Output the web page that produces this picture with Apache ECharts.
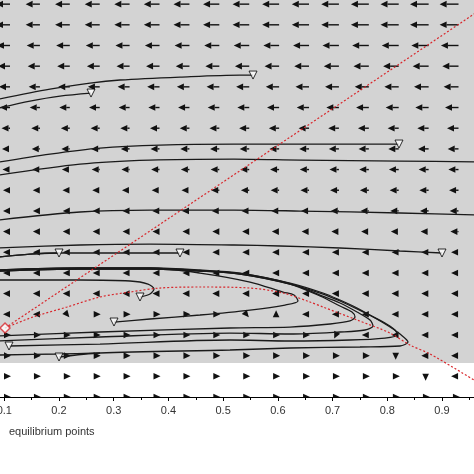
<!DOCTYPE html>
<html>
<head>
<meta charset="utf-8">
<script src="https://cdn.jsdelivr.net/npm/echarts@6/dist/echarts.min.js"></script>
<style>
  html, body { margin: 0; padding: 0; background: #fff; }
  #chart { width: 474px; height: 474px; }
</style>
</head>
<body>
<div id="chart"></div>
<script>
// x axis: 0 .. 1, labelled every 0.1 (the picture is a crop of a wider plot)
const xRange = [0, 1]
const xStep = 0.1
const yRange = [0, 0.96]

// shaded region (upper part of the phase plane)
const shadeBottom = 0.0822
const shadeTop = 0.96

// direction field: grid columns / rows, direction per cell, arrow length per row
const fieldX = [0.1049, 0.1596, 0.2142, 0.2689, 0.3235, 0.3782, 0.4329, 0.4875,
  0.5422, 0.5968, 0.6515, 0.7061, 0.7608, 0.8154, 0.8701, 0.9247]
const fieldY = [0, 0.05, 0.10, 0.15, 0.20, 0.25, 0.30, 0.35, 0.40, 0.45,
  0.50, 0.55, 0.60, 0.65, 0.70, 0.75, 0.80, 0.85, 0.90, 0.95]
// L left, R right, U up, D down, d down-left, r down-right (one string per row, bottom first)
const fieldDir = [
  'RRRRRRRRRRRRRRRR',
  'RRRRRRRRRRRRRRDL',
  'RRRRRRRRRRRRRDLL',
  'RRRRRRRRRRRdLLLL',
  'LLrRRRRRrULLLLLL',
  'LLLLLLLLLLLLLLLL',
  'LLLLLLLLLLLLLLLL',
  'LLLLLLLLLLLLLLLL',
  'LLLLLLLLLLLLLLLL',
  'LLLLLLLLLLLLLLLL',
  'LLLLLLLLLLLLLLLL',
  'LLLLLLLLLLLLLLLL',
  'LLLLLLLLLLLLLLLL',
  'LLLLLLLLLLLLLLLL',
  'LLLLLLLLLLLLLLLL',
  'LLLLLLLLLLLLLLLL',
  'LLLLLLLLLLLLLLLL',
  'LLLLLLLLLLLLLLLL',
  'LLLLLLLLLLLLLLLL',
  'LLLLLLLLLLLLLLLL',
]
const fieldLen = [5.5, 5.5, 5.5, 5.5, 5.5, 5.5, 5.5, 5.5, 6, 6.5,
  7, 7.5, 8, 8.5, 10, 11, 12, 13, 14, 14]
const fieldGain = [1.0, 1.02, 1.05, 1.07, 1.09, 1.12, 1.14, 1.16,
  1.19, 1.21, 1.23, 1.26, 1.28, 1.30, 1.33, 1.35]
const dirAngle = { L: 180, R: 0, U: 90, D: -90, d: -115, r: -50 }

// trajectories (first point = initial condition)
const traj1 = [[0.5546, 0.7785], [0.5308, 0.7785], [0.4211, 0.7737], [0.3115, 0.7665], [0.2567, 0.7592], [0.1835, 0.7447], [0.09, 0.7205]]
const traj2 = [[0.2585, 0.7350], [0.2018, 0.7278], [0.1470, 0.7157], [0.09, 0.6988]]
const traj3 = [[0.8214, 0.6117], [0.6405, 0.6117], [0.5198, 0.6117], [0.3846, 0.6093], [0.2749, 0.6020], [0.1835, 0.5875], [0.09, 0.5682]]
const traj4 = [[0.97, 0.5682], [0.8232, 0.5706], [0.6405, 0.5730], [0.5198, 0.5754], [0.3663, 0.5730], [0.2384, 0.5633], [0.09, 0.5368]]
const traj5 = [[0.97, 0.4400], [0.8232, 0.4449], [0.6405, 0.4497], [0.5198, 0.4521], [0.3663, 0.4521], [0.2384, 0.4473], [0.09, 0.4280]]
const traj6 = [[0.9000, 0.3482], [0.8232, 0.3530], [0.7135, 0.3603], [0.6039, 0.3651], [0.5198, 0.3675], [0.3663, 0.3699], [0.2384, 0.3675], [0.09, 0.3603]]
const traj7 = [[0.4211, 0.3482], [0.3115, 0.3482], [0.2000, 0.3482], [0.1470, 0.3457], [0.09, 0.3385]]
const traj8 = [[0.2000, 0.3482], [0.1470, 0.3457], [0.09, 0.3385]]
const loop1 = [[0.3480, 0.2418], [0.3663, 0.2490], [0.3736, 0.2611], [0.3627, 0.2732], [0.3298, 0.2805], [0.2384, 0.2829], [0.09, 0.2829]]
const loop2 = [[0.3005, 0.1813], [0.3663, 0.1886], [0.4577, 0.1983], [0.5491, 0.2103], [0.6131, 0.2224], [0.6368, 0.2321], [0.6296, 0.2466],
  [0.6094, 0.2539], [0.5491, 0.2780], [0.4577, 0.2998], [0.3663, 0.3119], [0.2384, 0.3119], [0.09, 0.3071]]
const loop3 = [[0.09, 0.1475], [0.2749, 0.1572], [0.5125, 0.1668], [0.6222, 0.1692], [0.6953, 0.1765], [0.7318, 0.1838], [0.7410, 0.1934],
  [0.7355, 0.2055], [0.7135, 0.2200], [0.6770, 0.2442], [0.6222, 0.2732], [0.5308, 0.2974], [0.4577, 0.3046], [0.3663, 0.3095], [0.2384, 0.3095], [0.09, 0.3046]]
const loop4 = [[0.09, 0.1354], [0.2749, 0.1451], [0.5125, 0.1547], [0.6222, 0.1523], [0.7135, 0.1572], [0.7593, 0.1620], [0.7739, 0.1717],
  [0.7684, 0.1862], [0.7447, 0.2055], [0.7135, 0.2273], [0.6770, 0.2466], [0.6222, 0.2744], [0.5308, 0.2986], [0.4577, 0.3058], [0.3663, 0.3107], [0.2384, 0.3107], [0.09, 0.3058]]
const loop5 = [[0.1086, 0.1233], [0.2749, 0.1281], [0.5125, 0.1378], [0.6222, 0.1354], [0.7318, 0.1378], [0.7958, 0.1426], [0.8178, 0.1499],
  [0.8141, 0.1620], [0.7958, 0.1789], [0.7447, 0.2128], [0.7135, 0.2321], [0.6825, 0.2490], [0.6222, 0.2732], [0.5308, 0.2974], [0.4577, 0.3046], [0.3663, 0.3095], [0.2384, 0.3095], [0.09, 0.3046]]
const loop6 = [[0.2000, 0.0967], [0.2749, 0.1064], [0.5125, 0.1136], [0.6222, 0.1185], [0.7501, 0.1209], [0.8232, 0.1233], [0.8379, 0.1330],
  [0.8232, 0.1523], [0.8050, 0.1692], [0.7776, 0.1910], [0.7447, 0.2152], [0.7135, 0.2345], [0.6825, 0.2515], [0.6222, 0.2756], [0.5308, 0.2998], [0.4577, 0.3071], [0.3663, 0.3119], [0.2384, 0.3119], [0.09, 0.3071]]
const loop7 = [[0.09, 0.1015], [0.2000, 0.1040], [0.2749, 0.1064]]

const trajectories = [traj1, traj2, traj3, traj4, traj5, traj6, traj7, traj8, loop1, loop2, loop3, loop4, loop5, loop6, loop7]
const startedInside = [traj1, traj2, traj3, traj6, traj7, traj8, loop1, loop2, loop5, loop6]

// red dotted curves through the equilibrium
const nullcline = [[0.1013, 0.1668], [0.1525, 0.1934], [0.2146, 0.2176], [0.2749, 0.2418], [0.3298, 0.2539], [0.3846, 0.2635],
  [0.4577, 0.2660], [0.5491, 0.2635], [0.6094, 0.2515], [0.6587, 0.2297], [0.6825, 0.2176], [0.7447, 0.1862],
  [0.8050, 0.1547], [0.8415, 0.1257], [0.8781, 0.1040], [0.9585, 0.0411]]
const diagonal = [[0.1013, 0.1668], [0.98, 0.9451]]
const equilibria = [[0.1013, 0.1668]]

// build arrow data [x, y, angle, length]
const fieldData = []
fieldY.forEach((y, r) => {
  fieldX.forEach((x, c) => {
    fieldData.push([x, y, dirAngle[fieldDir[r][c]], fieldLen[r] * fieldGain[c]])
  })
})

function renderArrow(params, api) {
  const p = api.coord([api.value(0), api.value(1)])
  const a = api.value(2) * Math.PI / 180
  const len = api.value(3)
  const ux = Math.cos(a)
  const uy = -Math.sin(a)
  const tx = p[0] - 3 * ux
  const ty = p[1] - 3 * uy
  const L = Math.max(len, 7)
  const hx = tx + L * ux
  const hy = ty + L * uy
  const bx = hx - 7 * ux
  const by = hy - 7 * uy
  const w = 3.3
  const children = []
  if (len > 8) {
    children.push({
      type: 'line',
      shape: { x1: tx, y1: ty, x2: bx, y2: by },
      style: { stroke: '#111', lineWidth: 1.4 },
    })
  }
  children.push({
    type: 'polygon',
    shape: { points: [[hx, hy], [bx - w * uy, by + w * ux], [bx + w * uy, by - w * ux]] },
    style: { fill: '#111' },
  })
  return { type: 'group', children }
}

const lineSeries = trajectories.map((pts) => ({
  type: 'line',
  data: pts,
  symbol: 'none',
  smooth: 0.3,
  z: 3,
  lineStyle: { color: '#1a1a1a', width: 1.3 },
}))

const chart = echarts.init(document.getElementById('chart'))
chart.setOption({
  animation: false,
  grid: { left: -50.4, right: -22.7, top: 0, bottom: 77, containLabel: false, outerBoundsMode: 'none' },
  xAxis: {
    type: 'value',
    min: xRange[0],
    max: xRange[1],
    interval: xStep,
    splitLine: { show: false },
    axisLine: { lineStyle: { color: '#000', width: 1 } },
    axisTick: { length: 4, lineStyle: { color: '#000' } },
    minorTick: { show: true, splitNumber: 2, length: 3, lineStyle: { color: '#000' } },
    axisLabel: {
      color: '#333',
      fontSize: 11,
      fontFamily: 'Liberation Sans',
      margin: 8,
      formatter: (v) => v.toFixed(1),
    },
  },
  yAxis: { type: 'value', min: yRange[0], max: yRange[1], show: false },
  graphic: [{
    type: 'text',
    left: 9,
    top: 426,
    style: { text: 'equilibrium points', fill: '#333', font: '11px "Liberation Sans"' },
  }],
  series: [
    {
      type: 'line',
      data: [[xRange[0], shadeTop], [xRange[1], shadeTop]],
      symbol: 'none',
      z: 1,
      lineStyle: { width: 0 },
      areaStyle: { origin: shadeBottom, color: '#d3d3d3', opacity: 1 },
    },
    {
      type: 'custom',
      data: fieldData,
      renderItem: renderArrow,
      clip: true,
      z: 2,
    },
    ...lineSeries,
    {
      type: 'line',
      data: nullcline,
      symbol: 'none',
      smooth: 0.3,
      z: 4,
      lineStyle: { color: '#d8262b', width: 1.2, type: [2, 2] },
    },
    {
      type: 'line',
      data: diagonal,
      symbol: 'none',
      z: 4,
      lineStyle: { color: '#d8262b', width: 1.2, type: [2, 2] },
    },
    {
      type: 'scatter',
      data: startedInside.map((t) => t[0]),
      symbol: 'triangle',
      symbolRotate: 180,
      symbolSize: 8,
      z: 5,
      itemStyle: { color: '#fff', borderColor: '#000', borderWidth: 1 },
    },
    {
      type: 'scatter',
      data: equilibria,
      symbol: 'diamond',
      symbolSize: [10, 10],
      z: 6,
      itemStyle: { color: '#fff', borderColor: '#d8262b', borderWidth: 1.4 },
    },
  ],
})
</script>
</body>
</html>
